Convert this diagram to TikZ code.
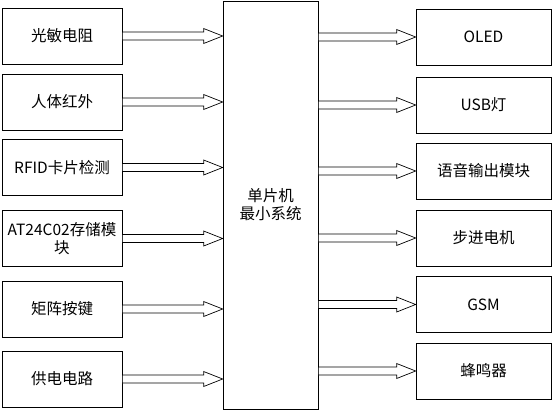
\documentclass[tikz,border=0pt]{standalone}
\usepackage{fontspec}
\setmainfont{Noto Sans CJK SC}
\usetikzlibrary{calc}

\begin{document}
\begin{tikzpicture}
[x=1pt,y=-1pt]
\tikzset{lbox/.style={draw,line width=.7pt,minimum width=120pt,minimum height=56pt,align=center,font=\fontsize{15.5}{18}\selectfont}}
\tikzset{rbox/.style={lbox,minimum width=135pt}}
\tikzset{blk/.style={draw,line width=.7pt,fill=white,line join=miter}}
\useasboundingbox (0,0) rectangle (554,410);
\node [lbox,minimum width=95pt,minimum height=408pt] (m) at (270.5,205) {单片机\\最小系统};
\node [lbox] (l1) at (62,36) {光敏电阻};
\node [lbox] (l2) at (62,102) {人体红外};
\node [lbox] (l3) at (62,167.5) {RFID卡片检测};
\node [lbox] (l4) at (62,238.5) {AT24C02存储模\\块};
\node [lbox] (l5) at (62,309) {矩阵按键};
\node [lbox] (l6) at (62,379) {供电电路};
\node [rbox] (r1) at (483.5,37) {OLED};
\node [rbox] (r2) at (483.5,105) {USB灯};
\node [rbox] (r3) at (483.5,171) {语音输出模块};
\node [rbox] (r4) at (483.5,238) {步进电机};
\node [rbox] (r5) at (483.5,304.5) {GSM};
\node [rbox] (r6) at (483.5,371) {蜂鸣器};

\foreach \from/\to/\lev in {l1/m/l1,l2/m/l2,l3/m/l3,l4/m/l4,l5/m/l5,l6/m/l6,
	m/r1/r1,m/r2/r2,m/r3/r3,m/r4/r4,m/r5/r5,m/r6/r6}
	\draw [blk] let \p1=(\from.east |- \lev), \p2=(\to.west) in
	(\x1,\y1+4pt) -- (\x2-19pt,\y1+4pt) -- (\x2-19pt,\y1+7.5pt) -- (\x2,\y1)
	-- (\x2-19pt,\y1-7.5pt) -- (\x2-19pt,\y1-4pt) -- (\x1,\y1-4pt) -- cycle;
\end{tikzpicture}
\end{document}
